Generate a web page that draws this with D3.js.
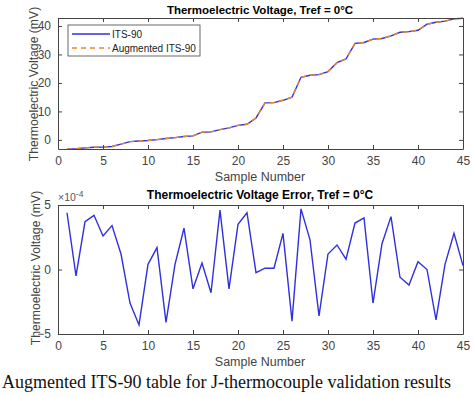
<!DOCTYPE html>
<meta charset="utf-8">
<style>
body { margin: 0; background: #fff; }
svg text { font-family: "Liberation Sans", Arial, sans-serif; }
.tick text { fill: #444; font-size: 12px; }
.domain, .tick line { stroke: #444; }
.caption { font-family: "Liberation Serif", "Times New Roman", serif; }
</style>
<svg width="474" height="397"></svg>
<script src="https://d3js.org/d3.v7.min.js"></script>
<script>

// sample index 1..45
var samples = d3.range(1, 46);

// ITS-90 thermoelectric voltage (mV)
var its90 = [-3.3, -3.1, -2.8, -2.6, -2.5, -2.3, -1.5, -0.6, -0.4, -0.2,
  0.1, 0.5, 0.8, 1.2, 1.4, 2.7, 2.8, 3.6, 4.2, 5.1,
  5.5, 7.7, 13.0, 13.1, 13.9, 15.0, 22.0, 22.7, 22.9, 24.0,
  27.1, 28.4, 33.9, 34.2, 35.4, 35.6, 36.5, 37.8, 38.0, 38.5,
  40.6, 41.3, 41.7, 42.5, 42.7];

// augmented table, same values to the plot's resolution
var augmented = its90.slice();

// error, in units of 1e-4 mV
var error = [4.4, -0.5, 3.7, 4.2, 2.6, 3.4, 1.2, -2.6, -4.3, 0.4,
  1.7, -4.1, 0.4, 3.2, -1.5, 0.5, -1.8, 4.6, -1.5, 3.5,
  4.4, -0.25, 0.1, 0.1, 2.8, -4.0, 4.7, 2.3, -3.6, 1.2,
  1.9, 0.8, 3.6, 4.0, -2.6, 2.0, 4.1, -0.6, -1.2, 0.6,
  0.0, -3.9, 0.4, 2.8, 0.3];

var xTicks = [0, 5, 10, 15, 20, 25, 30, 35, 40, 45];
var topYTicks = [0, 10, 20, 30, 40];
var botYTicks = [-5, 0, 5];

var svg = d3.select("svg");
var left = 58, right = 463;
var blue = "#3030dc", orange = "#e8872a";

var x = d3.scaleLinear().domain([0, 45]).range([left, right]);

function box(g, y, top, bottom, yTicks) {
  g.append("g")
      .attr("transform", "translate(0," + bottom + ")")
      .call(d3.axisBottom(x).tickValues(xTicks).tickSizeInner(-4).tickSizeOuter(0).tickPadding(7));
  g.append("g")
      .attr("transform", "translate(0," + top + ")")
      .call(d3.axisTop(x).tickValues(xTicks).tickSizeInner(-4).tickSizeOuter(0).tickFormat(""));
  g.append("g")
      .attr("transform", "translate(" + left + ",0)")
      .call(d3.axisLeft(y).tickValues(yTicks).tickSizeInner(-4).tickSizeOuter(0).tickPadding(7));
  g.append("g")
      .attr("transform", "translate(" + right + ",0)")
      .call(d3.axisRight(y).tickValues(yTicks).tickSizeInner(-4).tickSizeOuter(0).tickFormat(""));
}

// ---- top panel
var t0 = 18, t1 = 149;
var yTop = d3.scaleLinear().domain([-3.2, 42.8]).range([t1, t0]);
var gTop = svg.append("g");

var line1 = d3.line().x(function(d, i) { return x(samples[i]); }).y(function(d) { return yTop(d); });
gTop.append("path").datum(its90)
    .attr("fill", "none").attr("stroke", blue).attr("stroke-width", 1.4)
    .attr("d", line1);
gTop.append("path").datum(augmented)
    .attr("fill", "none").attr("stroke", orange).attr("stroke-width", 1.4)
    .attr("stroke-dasharray", "5,4")
    .attr("d", line1);

box(gTop, yTop, t0, t1, topYTicks);

gTop.append("text").attr("x", 260).attr("y", 14)
    .attr("text-anchor", "middle").attr("font-weight", "bold").attr("font-size", 11.5)
    .text("Thermoelectric Voltage, Tref = 0°C");
gTop.append("text").attr("x", 260).attr("y", 181)
    .attr("text-anchor", "middle").attr("font-size", 12.5).attr("fill", "#444")
    .text("Sample Number");
gTop.append("text").attr("transform", "translate(38,84) rotate(-90)")
    .attr("text-anchor", "middle").attr("font-size", 12.2).attr("fill", "#444")
    .text("Thermoelectric Voltage (mV)");

// legend
var leg = gTop.append("g");
leg.append("rect").attr("x", 68).attr("y", 25).attr("width", 132).attr("height", 31)
    .attr("fill", "#fff").attr("stroke", "#444").attr("stroke-width", 0.8);
leg.append("line").attr("x1", 72).attr("x2", 110).attr("y1", 34).attr("y2", 34)
    .attr("stroke", blue).attr("stroke-width", 1.4);
leg.append("line").attr("x1", 72).attr("x2", 110).attr("y1", 48).attr("y2", 48)
    .attr("stroke", orange).attr("stroke-width", 1.4).attr("stroke-dasharray", "5,4");
leg.append("text").attr("x", 112).attr("y", 38).attr("font-size", 10).attr("fill", "#222").text("ITS-90");
leg.append("text").attr("x", 112).attr("y", 52).attr("font-size", 10).attr("fill", "#222").text("Augmented ITS-90");

// ---- bottom panel
var b0 = 205, b1 = 334;
var yBot = d3.scaleLinear().domain([-5, 5]).range([b1, b0]);
var gBot = svg.append("g");

gBot.append("path").datum(error)
    .attr("fill", "none").attr("stroke", blue).attr("stroke-width", 1.4)
    .attr("d", d3.line().x(function(d, i) { return x(samples[i]); }).y(function(d) { return yBot(d); }));

box(gBot, yBot, b0, b1, botYTicks);

gBot.append("text").attr("x", 260).attr("y", 199)
    .attr("text-anchor", "middle").attr("font-weight", "bold").attr("font-size", 12)
    .text("Thermoelectric Voltage Error, Tref = 0°C");
var mult = gBot.append("text").attr("x", 58).attr("y", 201).attr("font-size", 10.5).attr("fill", "#555");
mult.append("tspan").text("×10");
mult.append("tspan").attr("dy", -4).attr("font-size", 8.5).text("-4");
gBot.append("text").attr("x", 260).attr("y", 366)
    .attr("text-anchor", "middle").attr("font-size", 12.5).attr("fill", "#444")
    .text("Sample Number");
gBot.append("text").attr("transform", "translate(40,268) rotate(-90)")
    .attr("text-anchor", "middle").attr("font-size", 12.2).attr("fill", "#444")
    .text("Thermoelectric Voltage (mV)");

svg.append("text").attr("class", "caption").attr("x", 2).attr("y", 388)
    .attr("font-size", 18).attr("fill", "#111")
    .text("Augmented ITS-90 table for J-thermocouple validation results");

</script>
